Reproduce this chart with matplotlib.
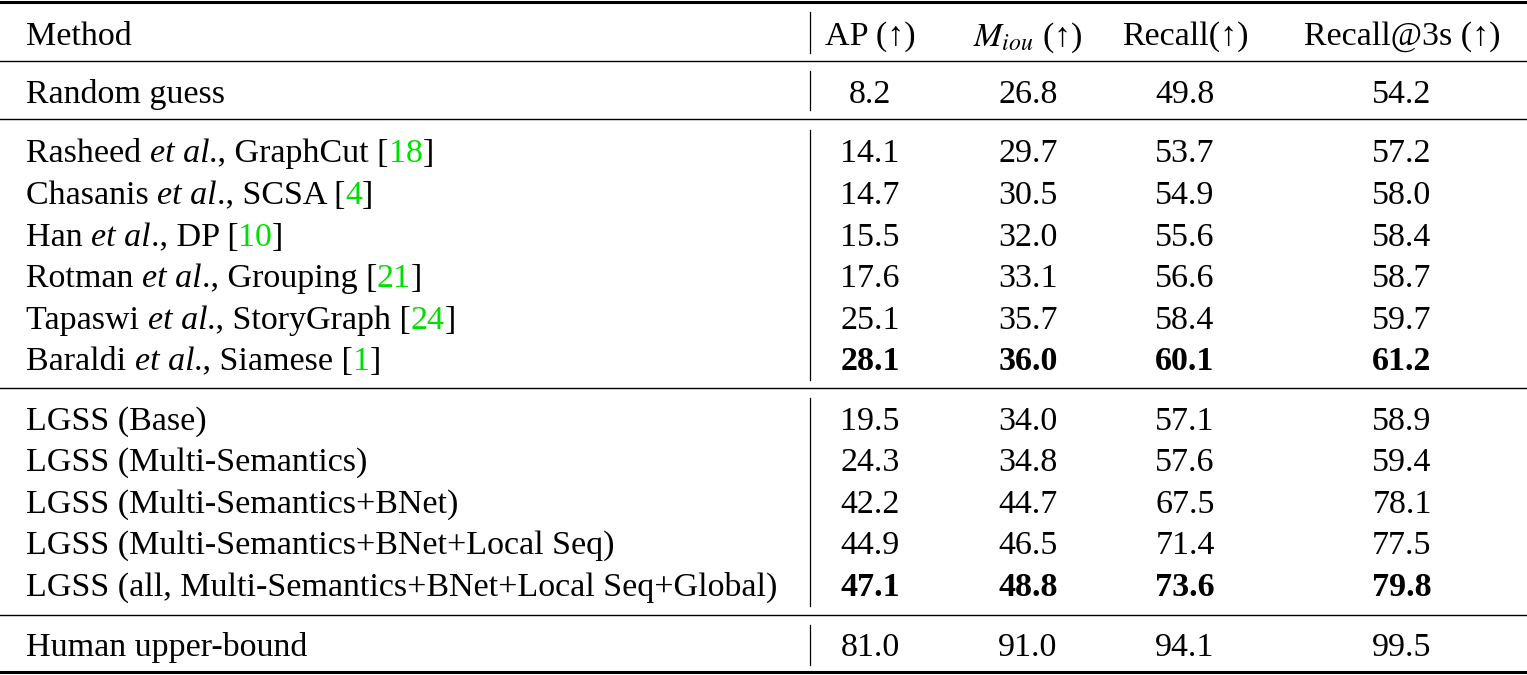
import matplotlib
matplotlib.use("Agg")
import matplotlib.pyplot as plt
from matplotlib.lines import Line2D

plt.rcParams['font.family'] = ['Liberation Serif', 'DejaVu Serif']
plt.rcParams['mathtext.fontset'] = 'stix'

W, H = 1527, 675
headers = ["Method", "AP (↑)", r"$M_{iou}$ (↑)", "Recall(↑)", "Recall@3s (↑)"]
# method segments: (text, style) style: n normal, i italic, g green
methods = [
    [("Random guess", "n")],
    [("Rasheed ", "n"), ("et al", "i"), ("., GraphCut [", "n"), ("18", "g"), ("]", "n")],
    [("Chasanis ", "n"), ("et al", "i"), ("., SCSA [", "n"), ("4", "g"), ("]", "n")],
    [("Han ", "n"), ("et al", "i"), ("., DP [", "n"), ("10", "g"), ("]", "n")],
    [("Rotman ", "n"), ("et al", "i"), ("., Grouping [", "n"), ("21", "g"), ("]", "n")],
    [("Tapaswi ", "n"), ("et al", "i"), ("., StoryGraph [", "n"), ("24", "g"), ("]", "n")],
    [("Baraldi ", "n"), ("et al", "i"), ("., Siamese [", "n"), ("1", "g"), ("]", "n")],
    [("LGSS (Base)", "n")],
    [("LGSS (Multi-Semantics)", "n")],
    [("LGSS (Multi-Semantics+BNet)", "n")],
    [("LGSS (Multi-Semantics+BNet+Local Seq)", "n")],
    [("LGSS (all, Multi-Semantics+BNet+Local Seq+Global)", "n")],
    [("Human upper-bound", "n")],
]
ap = ["8.2", "14.1", "14.7", "15.5", "17.6", "25.1", "28.1", "19.5", "24.3", "42.2", "44.9", "47.1", "81.0"]
miou = ["26.8", "29.7", "30.5", "32.0", "33.1", "35.7", "36.0", "34.0", "34.8", "44.7", "46.5", "48.8", "91.0"]
recall = ["49.8", "53.7", "54.9", "55.6", "56.6", "58.4", "60.1", "57.1", "57.6", "67.5", "71.4", "73.6", "94.1"]
recall3 = ["54.2", "57.2", "58.0", "58.4", "58.7", "59.7", "61.2", "58.9", "59.4", "78.1", "77.5", "79.8", "99.5"]
bold_rows = [6, 11]

row_y = [91, 150, 192, 234, 275, 317, 358, 418, 459, 501, 542, 584, 644]
header_y = 33
col_x = [870, 1028, 1185, 1402]
fs = 24.5

fig = plt.figure(figsize=(W / 100, H / 100), dpi=100)
fig.patch.set_facecolor('white')

def fx(x): return x / W
def fy(y): return 1 - y / H

def hline(y, lw):
    fig.add_artist(Line2D([fx(0), fx(W)], [fy(y), fy(y)], color='black', lw=lw))

hline(2, 2.2); hline(61, 1.0); hline(119, 1.0); hline(388, 1.0); hline(615, 1.0); hline(672, 2.2)
for a, b in [(12, 53), (71, 110), (130, 380), (398, 606), (625, 665)]:
    fig.add_artist(Line2D([fx(810), fx(810)], [fy(a), fy(b)], color='black', lw=0.9))

VA = 'center_baseline'
fig.text(fx(26), fy(header_y), headers[0], fontsize=fs, va=VA, ha='left')
for h, x in zip(headers[1:], col_x):
    fig.text(fx(x), fy(header_y), h, fontsize=fs, va=VA, ha='center')

fig.canvas.draw()
r = fig.canvas.get_renderer()
for i, segs in enumerate(methods):
    x = 26
    for t, st in segs:
        kw = dict(fontsize=fs, va=VA, ha='left')
        if st == 'i': kw['style'] = 'italic'
        if st == 'g': kw['color'] = '#00e000'
        tx = fig.text(fx(x), fy(row_y[i]), t, **kw)
        x += tx.get_window_extent(renderer=r).width
    for vals, cx in zip([ap, miou, recall, recall3], col_x):
        fig.text(fx(cx), fy(row_y[i]), vals[i], fontsize=fs, va=VA, ha='center',
                 weight='bold' if i in bold_rows else 'normal')

fig.savefig("out.png", dpi=100)
